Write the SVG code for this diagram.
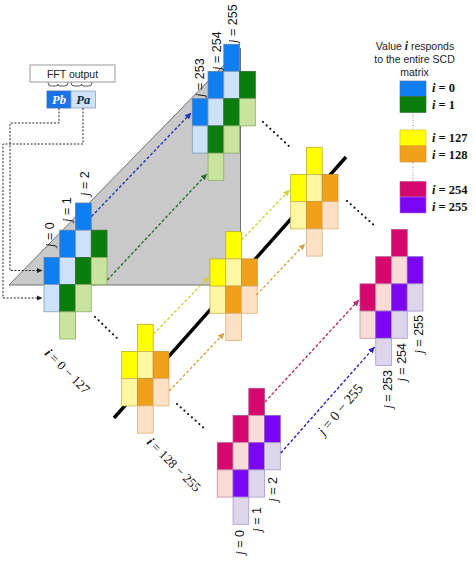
<svg xmlns="http://www.w3.org/2000/svg" width="474" height="567" viewBox="0 0 474 567">
<style>
.c{stroke-width:0.8}
.b{fill:#0f7ef0;stroke:#5a7fae}
.lb{fill:#cde2f8;stroke:#7f9cc0}
.g{fill:#0a7d0c;stroke:#2f6a30}
.lg{fill:#c9e49e;stroke:#8eab66}
.y{fill:#ffff00;stroke:#b9ab2a}
.ly{fill:#fff6a2;stroke:#cdb64c}
.o{fill:#f0a11c;stroke:#c98d30}
.p{fill:#fde1c6;stroke:#dcb079}
.m{fill:#d5096d;stroke:#b2508b}
.pk{fill:#f9dcd5;stroke:#c98ba8}
.v{fill:#7b06f4;stroke:#8a5ad0}
.lv{fill:#ddd5eb;stroke:#a898c6}
.lbl{font-family:"Liberation Sans",Arial,sans-serif;font-size:12.5px;fill:#111}
.jj{font-family:"Liberation Serif","Times New Roman",serif;font-style:italic}
.dlbl{font-family:"Liberation Serif","Times New Roman",serif;font-size:13px;fill:#111}
.leg{font-family:"Liberation Serif","Times New Roman",serif;font-size:12.5px;font-weight:bold;fill:#111}
.legt{font-family:"Liberation Sans",Arial,sans-serif;font-size:10.5px;fill:#222}
.dash{fill:none;stroke-width:1.4;stroke-dasharray:3 2}
.dots{fill:none;stroke:#111;stroke-width:2.2;stroke-dasharray:0 5;stroke-linecap:round}
.fft{fill:none;stroke:#222;stroke-width:1;stroke-dasharray:2 1.6}
</style>
<defs>
<marker id="aNavy" markerUnits="userSpaceOnUse" markerWidth="7" markerHeight="7" refX="6" refY="3.5" orient="auto"><path d="M0,0.5 L6.5,3.5 L0,6.5 z" fill="#2436b8"/></marker>
<marker id="aGreen" markerUnits="userSpaceOnUse" markerWidth="7" markerHeight="7" refX="6" refY="3.5" orient="auto"><path d="M0,0.5 L6.5,3.5 L0,6.5 z" fill="#2c6e2c"/></marker>
<marker id="aYel" markerUnits="userSpaceOnUse" markerWidth="7" markerHeight="7" refX="6" refY="3.5" orient="auto"><path d="M0,0.5 L6.5,3.5 L0,6.5 z" fill="#cfcf3e"/></marker>
<marker id="aOra" markerUnits="userSpaceOnUse" markerWidth="7" markerHeight="7" refX="6" refY="3.5" orient="auto"><path d="M0,0.5 L6.5,3.5 L0,6.5 z" fill="#d6a444"/></marker>
<marker id="aMag" markerUnits="userSpaceOnUse" markerWidth="7" markerHeight="7" refX="6" refY="3.5" orient="auto"><path d="M0,0.5 L6.5,3.5 L0,6.5 z" fill="#b22f6a"/></marker>
<marker id="aVio" markerUnits="userSpaceOnUse" markerWidth="7" markerHeight="7" refX="6" refY="3.5" orient="auto"><path d="M0,0.5 L6.5,3.5 L0,6.5 z" fill="#2a22c8"/></marker>
<marker id="aBlk" markerUnits="userSpaceOnUse" markerWidth="6" markerHeight="6" refX="5" refY="3" orient="auto"><path d="M0,0.5 L5.5,3 L0,5.5 z" fill="#222"/></marker>
</defs>

<!-- background shapes -->
<polygon id="grey-region" points="9,285 240.5,285 240.5,48" fill="#c9c9c9" stroke="#707070" stroke-width="1"/>
<line id="axis" x1="114" y1="418" x2="346" y2="157" stroke="#000" stroke-width="3.4"/>

<!-- FFT output -->
<g id="fft-output">
<rect x="30" y="65" width="85" height="17" fill="#fff" stroke="#9a9a9a" stroke-width="1"/>
<text x="72.5" y="77.5" text-anchor="middle" class="legt" style="font-size:10.5px">FFT output</text>
<path d="M48,82.5 Q48,86 51,86 L56,86 Q58,86 58,84 Q58,86 60,86 L65,86 Q68,86 68,82.5" fill="none" stroke="#444" stroke-width="0.9"/>
<path d="M71,82.5 Q71,86 74,86 L79.5,86 Q81.5,86 81.5,84 Q81.5,86 83.5,86 L89,86 Q92,86 92,82.5" fill="none" stroke="#444" stroke-width="0.9"/>
</g>
<g id="pb">
<rect x="47" y="91" width="24" height="17" fill="#1a73e8" stroke="#3a6db0" stroke-width="0.8"/>
<text x="59" y="104" text-anchor="middle" font-family="Liberation Serif, serif" font-style="italic" font-weight="bold" font-size="12.5" fill="#fff">Pb</text>
</g>
<g id="pa">
<rect x="71" y="91" width="24.5" height="17" fill="#cfe2f7" stroke="#8aa2c4" stroke-width="0.8"/>
<text x="83.2" y="104" text-anchor="middle" font-family="Liberation Serif, serif" font-style="italic" font-weight="bold" font-size="12.5" fill="#1a2440">Pa</text>
</g>

<!-- blue block left -->
<g id="block-blue-left" transform="translate(44,203)">
<rect class="c b" x="31.5" y="0" width="15.75" height="27.2"/>
<rect class="c b" x="15.75" y="27.2" width="15.75" height="27.2"/>
<rect class="c b" x="0" y="54.4" width="15.75" height="27.2"/>
<rect class="c lb" x="31.5" y="27.2" width="15.75" height="27.2"/>
<rect class="c lb" x="15.75" y="54.4" width="15.75" height="27.2"/>
<rect class="c lb" x="0" y="81.6" width="15.75" height="27.2"/>
<rect class="c g" x="47.25" y="27.2" width="15.75" height="27.2"/>
<rect class="c g" x="31.5" y="54.4" width="15.75" height="27.2"/>
<rect class="c g" x="15.75" y="81.6" width="15.75" height="27.2"/>
<rect class="c lg" x="47.25" y="54.4" width="15.75" height="27.2"/>
<rect class="c lg" x="31.5" y="81.6" width="15.75" height="27.2"/>
<rect class="c lg" x="15.75" y="108.8" width="15.75" height="27.2"/>
</g>

<!-- blue block top -->
<g id="block-blue-top" transform="translate(192.3,44.3)">
<rect class="c b" x="31.5" y="0" width="15.75" height="27.2"/>
<rect class="c b" x="15.75" y="27.2" width="15.75" height="27.2"/>
<rect class="c b" x="0" y="54.4" width="15.75" height="27.2"/>
<rect class="c lb" x="31.5" y="27.2" width="15.75" height="27.2"/>
<rect class="c lb" x="15.75" y="54.4" width="15.75" height="27.2"/>
<rect class="c lb" x="0" y="81.6" width="15.75" height="27.2"/>
<rect class="c g" x="47.25" y="27.2" width="15.75" height="27.2"/>
<rect class="c g" x="31.5" y="54.4" width="15.75" height="27.2"/>
<rect class="c g" x="15.75" y="81.6" width="15.75" height="27.2"/>
<rect class="c lg" x="47.25" y="54.4" width="15.75" height="27.2"/>
<rect class="c lg" x="31.5" y="81.6" width="15.75" height="27.2"/>
<rect class="c lg" x="15.75" y="108.8" width="15.75" height="27.2"/>
</g>

<!-- yellow blocks -->
<g id="block-yellow-a" transform="translate(121.7,324.3)">
<rect class="c y" x="15.75" y="0" width="15.75" height="27.2"/>
<rect class="c y" x="0" y="27.2" width="15.75" height="27.2"/>
<rect class="c ly" x="15.75" y="27.2" width="15.75" height="27.2"/>
<rect class="c ly" x="0" y="54.4" width="15.75" height="27.2"/>
<rect class="c o" x="31.5" y="27.2" width="15.75" height="27.2"/>
<rect class="c o" x="15.75" y="54.4" width="15.75" height="27.2"/>
<rect class="c p" x="31.5" y="54.4" width="15.75" height="27.2"/>
<rect class="c p" x="15.75" y="81.6" width="15.75" height="27.2"/>
</g>
<g id="block-yellow-b" transform="translate(210,231.7)">
<rect class="c y" x="15.75" y="0" width="15.75" height="27.2"/>
<rect class="c y" x="0" y="27.2" width="15.75" height="27.2"/>
<rect class="c ly" x="15.75" y="27.2" width="15.75" height="27.2"/>
<rect class="c ly" x="0" y="54.4" width="15.75" height="27.2"/>
<rect class="c o" x="31.5" y="27.2" width="15.75" height="27.2"/>
<rect class="c o" x="15.75" y="54.4" width="15.75" height="27.2"/>
<rect class="c p" x="31.5" y="54.4" width="15.75" height="27.2"/>
<rect class="c p" x="15.75" y="81.6" width="15.75" height="27.2"/>
</g>
<g id="block-yellow-c" transform="translate(290.7,147.3)">
<rect class="c y" x="15.75" y="0" width="15.75" height="27.2"/>
<rect class="c y" x="0" y="27.2" width="15.75" height="27.2"/>
<rect class="c ly" x="15.75" y="27.2" width="15.75" height="27.2"/>
<rect class="c ly" x="0" y="54.4" width="15.75" height="27.2"/>
<rect class="c o" x="31.5" y="27.2" width="15.75" height="27.2"/>
<rect class="c o" x="15.75" y="54.4" width="15.75" height="27.2"/>
<rect class="c p" x="31.5" y="54.4" width="15.75" height="27.2"/>
<rect class="c p" x="15.75" y="81.6" width="15.75" height="27.2"/>
</g>

<!-- pink blocks -->
<g id="block-pink-bottom" transform="translate(217.3,388.3)">
<rect class="c m" x="31.5" y="0" width="15.75" height="27.2"/>
<rect class="c m" x="15.75" y="27.2" width="15.75" height="27.2"/>
<rect class="c m" x="0" y="54.4" width="15.75" height="27.2"/>
<rect class="c pk" x="31.5" y="27.2" width="15.75" height="27.2"/>
<rect class="c pk" x="15.75" y="54.4" width="15.75" height="27.2"/>
<rect class="c pk" x="0" y="81.6" width="15.75" height="27.2"/>
<rect class="c v" x="47.25" y="27.2" width="15.75" height="27.2"/>
<rect class="c v" x="31.5" y="54.4" width="15.75" height="27.2"/>
<rect class="c v" x="15.75" y="81.6" width="15.75" height="27.2"/>
<rect class="c lv" x="47.25" y="54.4" width="15.75" height="27.2"/>
<rect class="c lv" x="31.5" y="81.6" width="15.75" height="27.2"/>
<rect class="c lv" x="15.75" y="108.8" width="15.75" height="27.2"/>
</g>
<g id="block-pink-right" transform="translate(360,229.5)">
<rect class="c m" x="31.5" y="0" width="15.75" height="27.2"/>
<rect class="c m" x="15.75" y="27.2" width="15.75" height="27.2"/>
<rect class="c m" x="0" y="54.4" width="15.75" height="27.2"/>
<rect class="c pk" x="31.5" y="27.2" width="15.75" height="27.2"/>
<rect class="c pk" x="15.75" y="54.4" width="15.75" height="27.2"/>
<rect class="c pk" x="0" y="81.6" width="15.75" height="27.2"/>
<rect class="c v" x="47.25" y="27.2" width="15.75" height="27.2"/>
<rect class="c v" x="31.5" y="54.4" width="15.75" height="27.2"/>
<rect class="c v" x="15.75" y="81.6" width="15.75" height="27.2"/>
<rect class="c lv" x="47.25" y="54.4" width="15.75" height="27.2"/>
<rect class="c lv" x="31.5" y="81.6" width="15.75" height="27.2"/>
<rect class="c lv" x="15.75" y="108.8" width="15.75" height="27.2"/>
</g>

<!-- connectors -->
<g id="connectors">
<path class="fft" d="M59,108 V123 H10 V270.5 H42" marker-end="url(#aBlk)"/>
<path class="fft" d="M83,108 V144 H3 V298 H42" marker-end="url(#aBlk)"/>
<line class="dash" stroke="#2436b8" x1="91.5" y1="216.5" x2="191" y2="113" marker-end="url(#aNavy)"/>
<line class="dash" stroke="#2c6e2c" x1="107.3" y1="280" x2="206.8" y2="174" marker-end="url(#aGreen)"/>
<line class="dash" stroke="#cfcf3e" x1="153.5" y1="334" x2="208.8" y2="277" marker-end="url(#aYel)"/>
<line class="dash" stroke="#d6a444" x1="169.3" y1="391" x2="224.2" y2="333" marker-end="url(#aOra)"/>
<line class="dash" stroke="#cfcf3e" x1="241.6" y1="240" x2="289.5" y2="190" marker-end="url(#aYel)"/>
<line class="dash" stroke="#d6a444" x1="256.5" y1="295" x2="304.8" y2="244" marker-end="url(#aOra)"/>
<line class="dash" stroke="#b22f6a" x1="265" y1="402" x2="358.8" y2="300" marker-end="url(#aMag)"/>
<line class="dash" stroke="#2a22c8" x1="280.8" y1="453" x2="374.5" y2="347" marker-end="url(#aVio)"/>
<line class="dots" x1="95" y1="317" x2="119" y2="340"/>
<line class="dots" x1="263" y1="122" x2="291" y2="148"/>
<line class="dots" x1="347" y1="201" x2="375" y2="226"/>
<line class="dots" x1="177" y1="404" x2="206" y2="430"/>
</g>

<!-- j labels -->
<g id="labels">
<text class="lbl" transform="translate(54,247) rotate(-90)"><tspan class="jj">j</tspan> = 0</text>
<text class="lbl" transform="translate(71,222) rotate(-90)"><tspan class="jj">j</tspan> = 1</text>
<text class="lbl" transform="translate(88.5,196) rotate(-90)"><tspan class="jj">j</tspan> = 2</text>
<text class="lbl" transform="translate(204,97) rotate(-90)"><tspan class="jj">j</tspan> = 253</text>
<text class="lbl" transform="translate(221,70) rotate(-90)"><tspan class="jj">j</tspan> = 254</text>
<text class="lbl" transform="translate(237,43) rotate(-90)"><tspan class="jj">j</tspan> = 255</text>
<text class="lbl" text-anchor="end" transform="translate(244,530) rotate(-90)"><tspan class="jj">j</tspan> = 0</text>
<text class="lbl" text-anchor="end" transform="translate(260.5,507) rotate(-90)"><tspan class="jj">j</tspan> = 1</text>
<text class="lbl" text-anchor="end" transform="translate(277,477) rotate(-90)"><tspan class="jj">j</tspan> = 2</text>
<text class="lbl" text-anchor="end" transform="translate(392,370) rotate(-90)"><tspan class="jj">j</tspan> = 253</text>
<text class="lbl" text-anchor="end" transform="translate(406,343) rotate(-90)"><tspan class="jj">j</tspan> = 254</text>
<text class="lbl" text-anchor="end" transform="translate(423,315) rotate(-90)"><tspan class="jj">j</tspan> = 255</text>
<text class="dlbl" transform="translate(44,354) rotate(45)"><tspan font-weight="bold" font-style="italic">i</tspan> = 0 − 127</text>
<text class="dlbl" transform="translate(146,443) rotate(45)"><tspan font-weight="bold" font-style="italic">i</tspan> = 128 − 255</text>
<text class="dlbl" style="font-size:14px" transform="translate(324,436) rotate(-50)"><tspan font-style="italic">j</tspan> = 0 − 255</text>
</g>

<!-- legend -->
<g id="legend">
<text class="legt" x="415" y="50" text-anchor="middle">Value <tspan font-family="Liberation Serif, serif" font-weight="bold" font-style="italic" font-size="11.5">i</tspan> responds</text>
<text class="legt" x="414.5" y="63" text-anchor="middle">to the entire SCD</text>
<text class="legt" x="414.5" y="75.5" text-anchor="middle">matrix</text>
<rect x="400" y="81" width="26" height="15.5" fill="#0f7ef0" stroke="#4a6ea0" stroke-width="0.6"/>
<rect x="400" y="96.5" width="26" height="16" fill="#0a7d0c" stroke="#2f6a30" stroke-width="0.6"/>
<rect x="400" y="130" width="26" height="16" fill="#ffff00" stroke="#c8b82a" stroke-width="0.6"/>
<rect x="400" y="146" width="26" height="16" fill="#f0a11c" stroke="#c98d30" stroke-width="0.6"/>
<rect x="400" y="181.5" width="26" height="15.5" fill="#d5096d" stroke="#b2508b" stroke-width="0.6"/>
<rect x="400" y="197" width="26" height="16" fill="#7b06f4" stroke="#b070e0" stroke-width="0.6"/>
<line x1="413" y1="112.5" x2="413" y2="130" stroke="#777" stroke-width="0.8" stroke-dasharray="1 1.5"/>
<line x1="413" y1="162" x2="413" y2="181.5" stroke="#777" stroke-width="0.8" stroke-dasharray="1 1.5"/>
<text class="leg" x="432" y="92"><tspan font-style="italic">i</tspan> = 0</text>
<text class="leg" x="432" y="108.5"><tspan font-style="italic">i</tspan> = 1</text>
<text class="leg" x="432" y="142"><tspan font-style="italic">i</tspan> = 127</text>
<text class="leg" x="432" y="158.5"><tspan font-style="italic">i</tspan> = 128</text>
<text class="leg" x="432" y="193.5"><tspan font-style="italic">i</tspan> = 254</text>
<text class="leg" x="432" y="210.5"><tspan font-style="italic">i</tspan> = 255</text>
</g>
</svg>
